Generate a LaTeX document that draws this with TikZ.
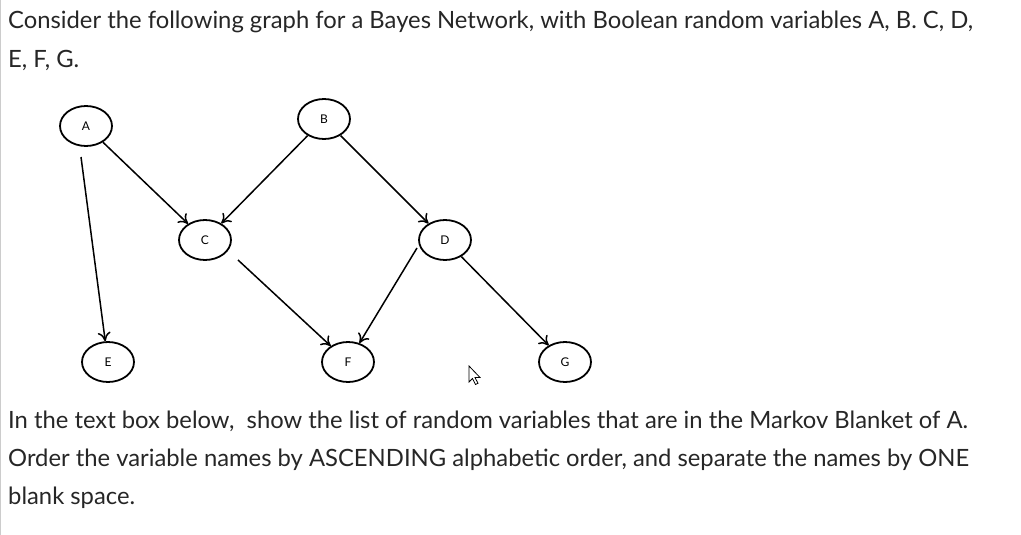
\documentclass[tikz,border=0pt]{standalone}
\usepackage{fontspec}
\setmainfont{Lato}
\usetikzlibrary{arrows.meta,shapes.geometric}
\begin{document}
\begin{tikzpicture}[x=1pt,y=-1pt,
  var/.style={draw,ellipse,line width=1.8pt,minimum width=52pt,minimum height=40pt,inner sep=0pt,font=\fontsize{12}{14}\selectfont},
  edge/.style={line width=1.5pt,-{To[length=9pt,width=13pt]}},
  txt/.style={anchor=west,inner sep=0pt,font=\fontsize{23.8}{28}\selectfont,text=black!85}]
\useasboundingbox (0,0) rectangle (1021,535);
\draw[black!20,line width=1pt] (0.5,0) -- (0.5,535);
\node[txt] (t1) at (8,22) {Consider the following graph for a Bayes Network, with Boolean random variables A, B. C, D,};
\node[txt] (t2) at (8,60) {E, F, G.};
\node[txt] (t3) at (8,421) {In the text box below,\ \ show the list of random variables that are in the Markov Blanket of A.};
\node[txt] (t4) at (8,460) {Order the variable names by ASCENDING alphabetic order, and separate the names by ONE};
\node[txt] (t5) at (8,498) {blank space.};
\node[var] (A) at (86,126) {A};
\node[var] (B) at (324,119) {B};
\node[var] (C) at (205,240) {C};
\node[var] (D) at (445,240) {D};
\node[var] (E) at (108,362) {E};
\node[var] (F) at (348,362) {F};
\node[var] (G) at (565,362) {G};
\coordinate (ae) at (81,157);
\coordinate (cf) at (238,260);
\coordinate (df) at (417,248);
\draw[edge] (ae) -- (E);
\draw[edge] (A) -- (C);
\draw[edge] (B) -- (C);
\draw[edge] (B) -- (D);
\draw[edge] (cf) -- (F);
\draw[edge] (df) -- (F);
\draw[edge] (D) -- (G);
\coordinate (cur) at (469,366);
\draw[line width=0.8pt,fill=white] (cur) -- ++(0,16) -- ++(3.5,-3.5) -- ++(3,6) -- ++(2.5,-1.2) -- ++(-3,-5.8) -- ++(5,0) -- cycle;
\end{tikzpicture}
\end{document}
